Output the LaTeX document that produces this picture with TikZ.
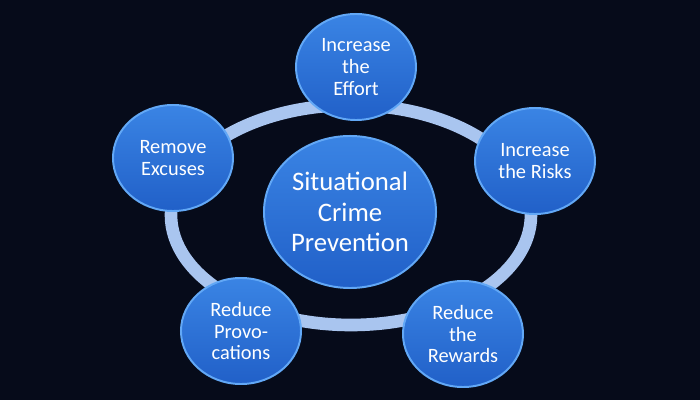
\documentclass[tikz,border=0pt]{standalone}
\usepackage{fontspec}
\setmainfont{Carlito}
\usetikzlibrary{shapes.geometric}

\definecolor{night}{HTML}{060B1A}
\definecolor{ringblue}{HTML}{A9C5EF}
\definecolor{ballhi}{HTML}{3A84E4}
\definecolor{balllo}{HTML}{2160C8}
\definecolor{rimblue}{HTML}{62A8F6}

\begin{document}
\begin{tikzpicture}[x=0.025cm,y=-0.025cm,
  bubble/.style={ellipse,minimum width=3cm,minimum height=2.65cm,inner sep=0pt,
    top color=ballhi,bottom color=balllo,draw=rimblue,line width=1.4pt,
    text=white,align=center,font=\fontsize{14.5}{15.5}\selectfont},
  hub/.style={bubble,minimum width=4.3cm,minimum height=3.8cm,
    font=\fontsize{19}{21.5}\selectfont},
  ring/.style={draw=ringblue,line width=9pt}]
  % background
  \fill[night] (0,0) rectangle (700,400);
  \useasboundingbox (0,0) rectangle (700,400);
  % ring behind the circles
  \coordinate (rc) at (351,215);
  \draw[ring] (rc) ellipse [x radius=180,y radius=110];
  % centre
  \node[hub] (scp) at (350,212) {Situational\\Crime\\Prevention};
  % the five techniques
  \node[bubble] (effort) at (356,67) {Increase\\the\\Effort};
  \node[bubble] (risks) at (535,161) {Increase\\the Risks};
  \node[bubble] (rewards) at (463,334) {Reduce\\the\\Rewards};
  \node[bubble] (provoc) at (241,331) {Reduce\\Provo-\\cations};
  \node[bubble] (excuses) at (173,158) {Remove\\Excuses};
\end{tikzpicture}
\end{document}
